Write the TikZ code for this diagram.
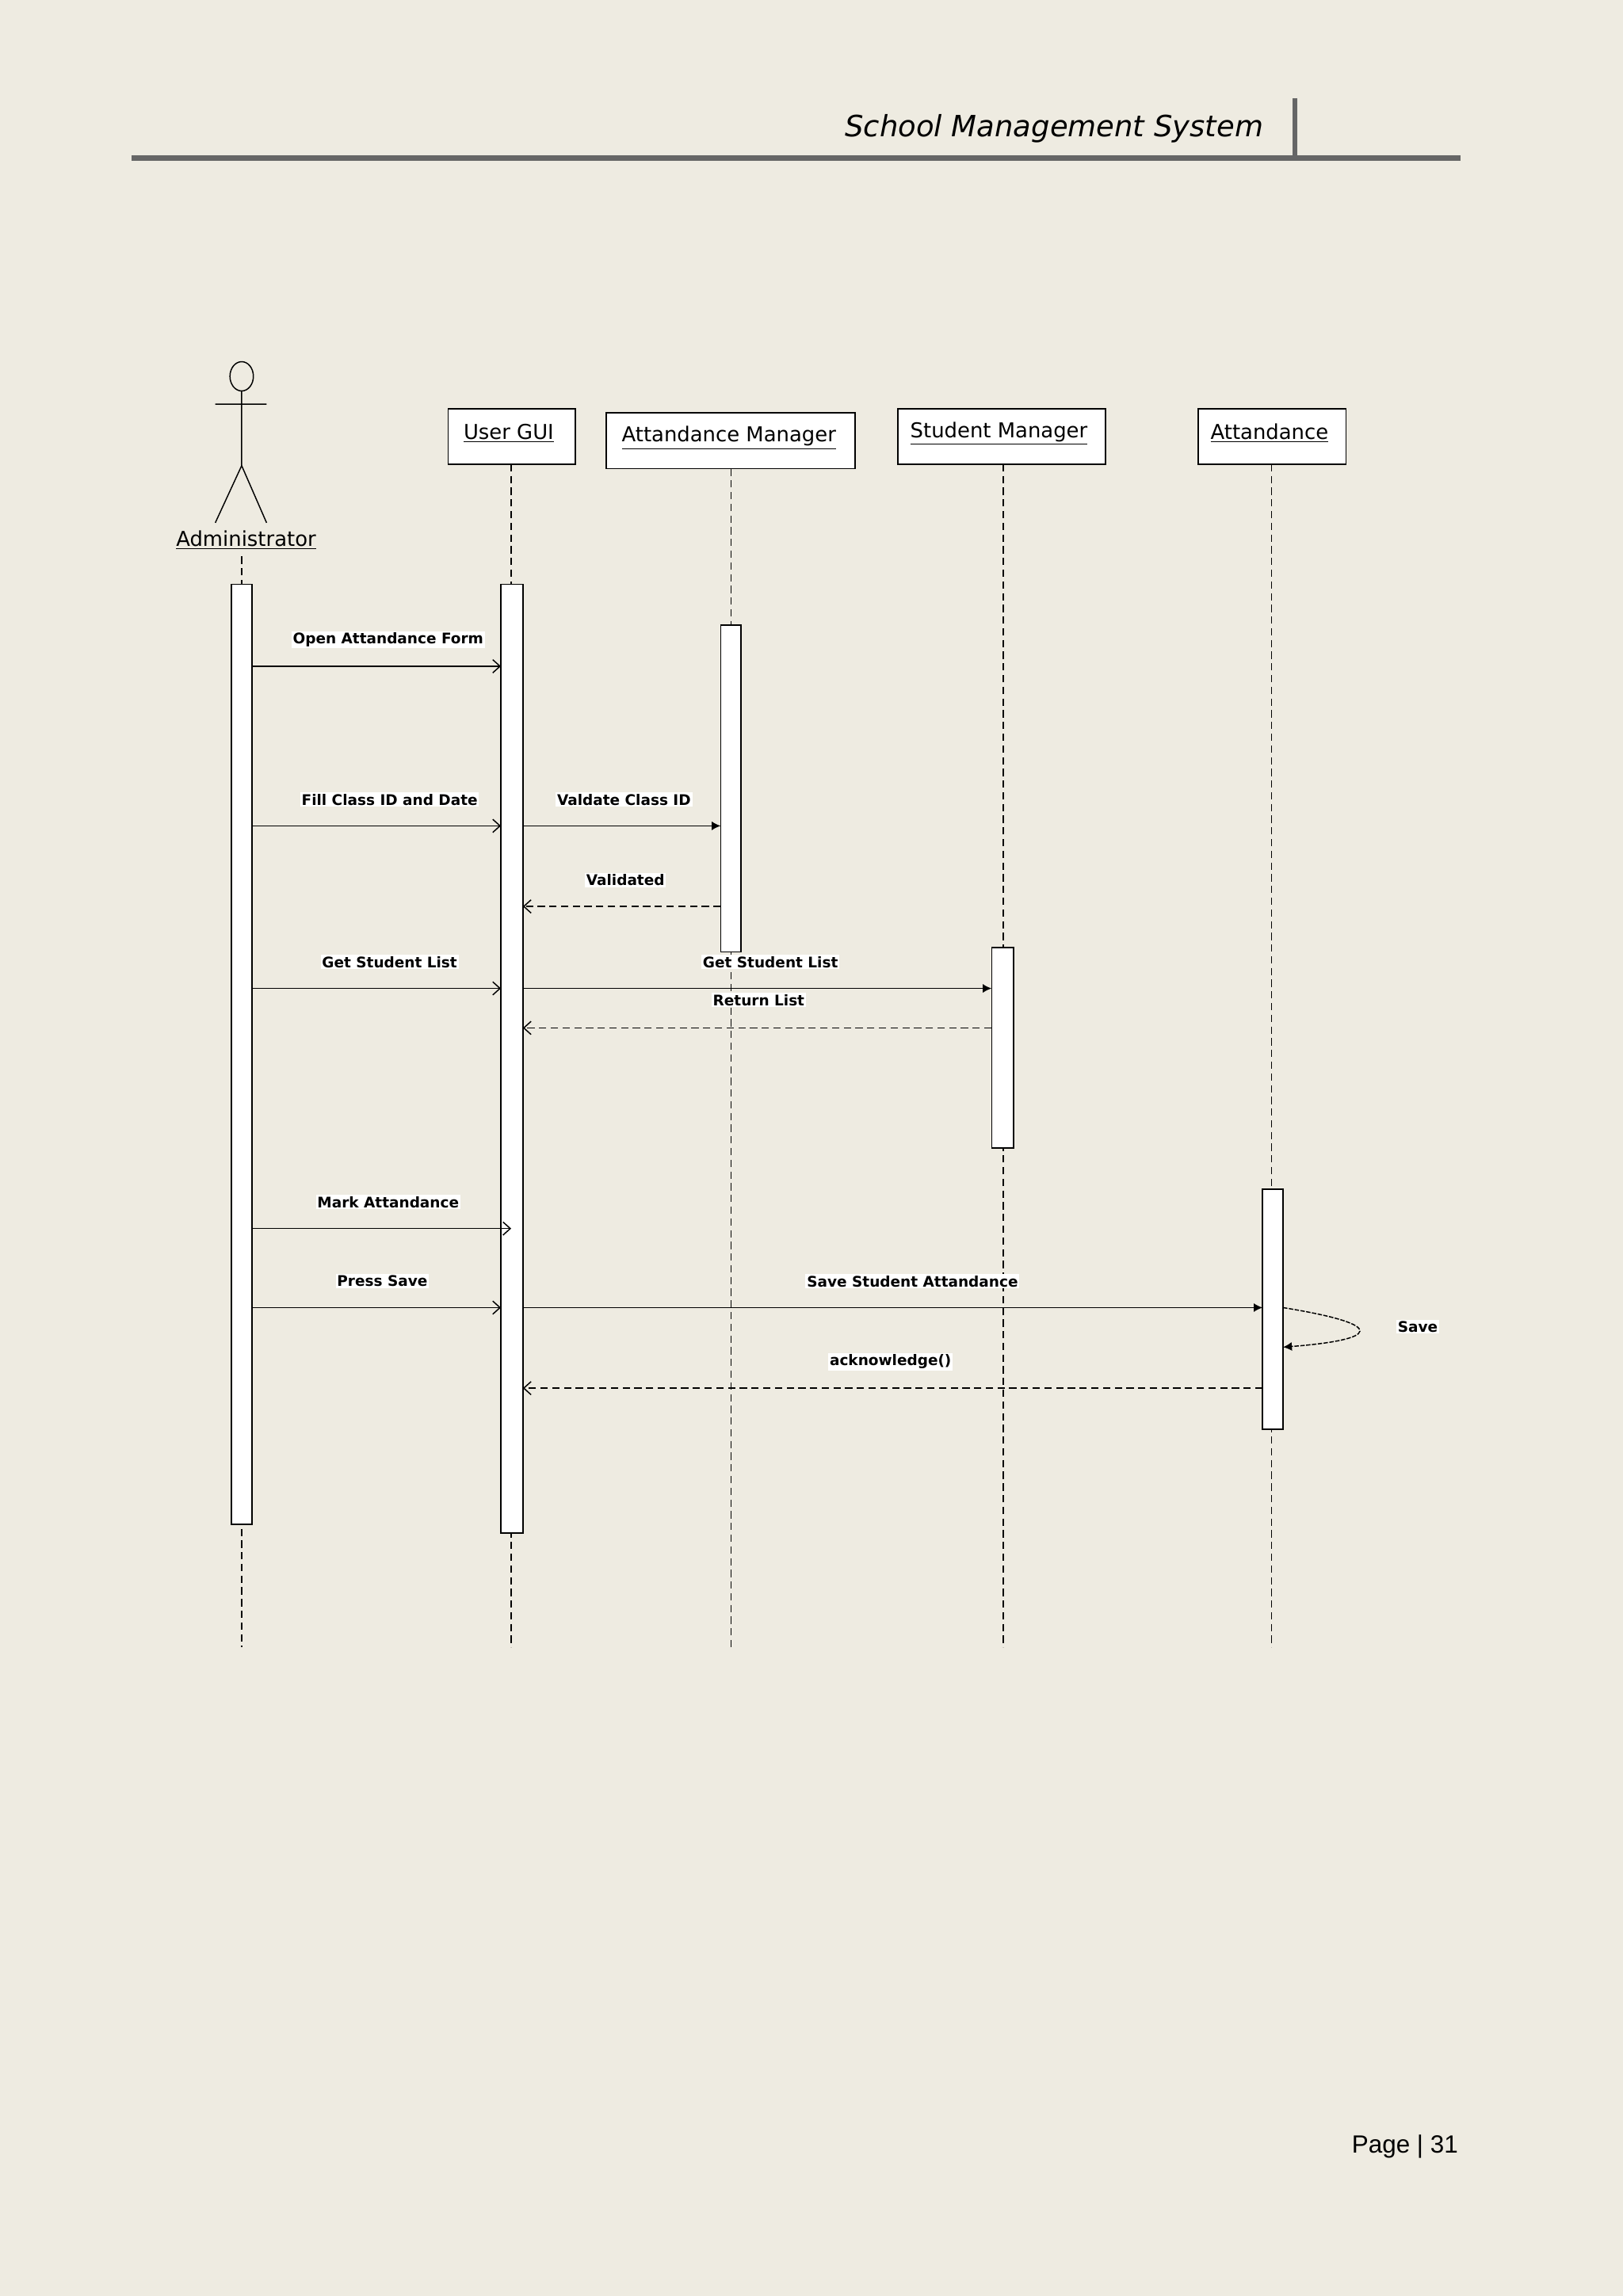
\documentclass[tikz,border=0pt]{standalone}
\usepackage{fontspec}
\setmainfont{DejaVu Sans}
\newfontfamily\pagefont{Liberation Sans}
\usetikzlibrary{arrows.meta}
\definecolor{bg}{HTML}{EEEBE1}
\begin{document}
\begin{tikzpicture}[x=1pt,y=-1pt,
  obj/.style={draw,line width=1pt,fill=white},
  life/.style={dashed,line width=0.8pt,dash pattern=on 5pt off 3pt},
  act/.style={draw,line width=0.8pt,fill=white},
  msg/.style={line width=0.8pt,-{Straight Barb[length=5pt,width=9pt]}},
  call/.style={line width=0.8pt,-{Latex[length=6pt,width=6pt]}},
  ret/.style={line width=0.8pt,dash pattern=on 5pt off 3pt,-{Straight Barb[length=5pt,width=9pt]}},
  lbl/.style={fill=white,inner sep=1pt,font=\fontsize{10}{12}\selectfont\bfseries},
  title/.style={font=\fontsize{14}{16}\selectfont}]
\fill[bg] (0,0) rectangle (1108,1568);
\useasboundingbox (0,0) rectangle (1108,1568);
% header
\draw[gray!80!black,line width=3.5pt] (90,108) -- (997,108);
\draw[gray!80!black,line width=3.5pt] (884,67) -- (884,108);
\node[anchor=east,font=\fontsize{20}{22}\selectfont\itshape] (hdr) at (866,88) {School Management System};
\node[anchor=east,font=\pagefont\fontsize{17}{19}\selectfont] (pg) at (999,1466) {Page | 31};
% lifelines
\foreach \x/\t in {165/380,349/317,499/320,685/317,868/317}
  \draw[life] (\x,\t) -- (\x,1125);
% actor
\draw[line width=0.8pt] (165,257) circle [x radius=8pt,y radius=10pt];
\draw[line width=0.8pt] (165,267) -- (165,318) (147,276) -- (182,276)
  (165,318) -- (147,357) (165,318) -- (182,357);
\node[title] (admin) at (168,369) {\underline{Administrator}};
% objects
\draw[obj] (306,279) rectangle (393,317);
\node[title,anchor=west] (gui) at (313,296) {\underline{User GUI}};
\draw[obj] (414,282) rectangle (584,320);
\node[title,anchor=west] (am) at (421,299) {\underline{Attandance Manager}};
\draw[obj] (613,279) rectangle (755,317);
\node[title,anchor=west] (sm) at (618,296) {\underline{Student Manager}};
\draw[obj] (818,279) rectangle (919,317);
\node[title,anchor=west] (at) at (823,296) {\underline{Attandance}};
% activations
\draw[act] (158,399) rectangle (172,1041);
\draw[act] (342,399) rectangle (357,1047);
\draw[act] (492,427) rectangle (506,650);
\draw[act] (677,647) rectangle (692,784);
\draw[act] (862,812) rectangle (876,976);
% messages
\coordinate (a1) at (172,455); \coordinate (g1) at (342,455);
\draw[msg] (a1) -- (g1);
\node[lbl] (l1) at (265,437) {Open Attandance Form};
\coordinate (a2) at (172,564); \coordinate (g2) at (342,564);
\draw[msg] (a2) -- (g2);
\node[lbl] (l2) at (266,546) {Fill Class ID and Date};
\coordinate (g3) at (357,564); \coordinate (m3) at (492,564);
\draw[call] (g3) -- (m3);
\node[lbl] (l3) at (426,546) {Valdate Class ID};
\coordinate (m4) at (492,619); \coordinate (g4) at (357,619);
\draw[ret] (m4) -- (g4);
\node[lbl] (l4) at (427,601) {Validated};
\coordinate (a5) at (172,675); \coordinate (g5) at (342,675);
\draw[msg] (a5) -- (g5);
\node[lbl] (l5) at (266,657) {Get Student List};
\coordinate (g6) at (357,675); \coordinate (s6) at (677,675);
\draw[call] (g6) -- (s6);
\node[lbl] (l6) at (526,657) {Get Student List};
\coordinate (s7) at (677,702); \coordinate (g7) at (357,702);
\draw[ret] (s7) -- (g7);
\node[lbl] (l7) at (518,683) {Return List};
\coordinate (a8) at (172,839); \coordinate (g8) at (349,839);
\draw[msg] (a8) -- (g8);
\node[lbl] (l8) at (265,821) {Mark Attandance};
\coordinate (a9) at (172,893); \coordinate (g9) at (342,893);
\draw[msg] (a9) -- (g9);
\node[lbl] (l9) at (261,875) {Press Save};
\coordinate (g10) at (357,893); \coordinate (t10) at (862,893);
\draw[call] (g10) -- (t10);
\node[lbl] (l10) at (623,875) {Save Student Attandance};
\coordinate (t11a) at (876,893); \coordinate (t11b) at (876,920);
\draw[line width=0.8pt,dash pattern=on 3pt off 1pt,-{Latex[length=6pt,width=6pt]}] (t11a) .. controls (950,905) and (940,915) .. (t11b);
\node[lbl] (l11) at (968,906) {Save};
\coordinate (t12) at (862,948); \coordinate (g12) at (357,948);
\draw[ret] (t12) -- (g12);
\node[lbl] (l12) at (608,930) {acknowledge()};
\end{tikzpicture}
\end{document}
